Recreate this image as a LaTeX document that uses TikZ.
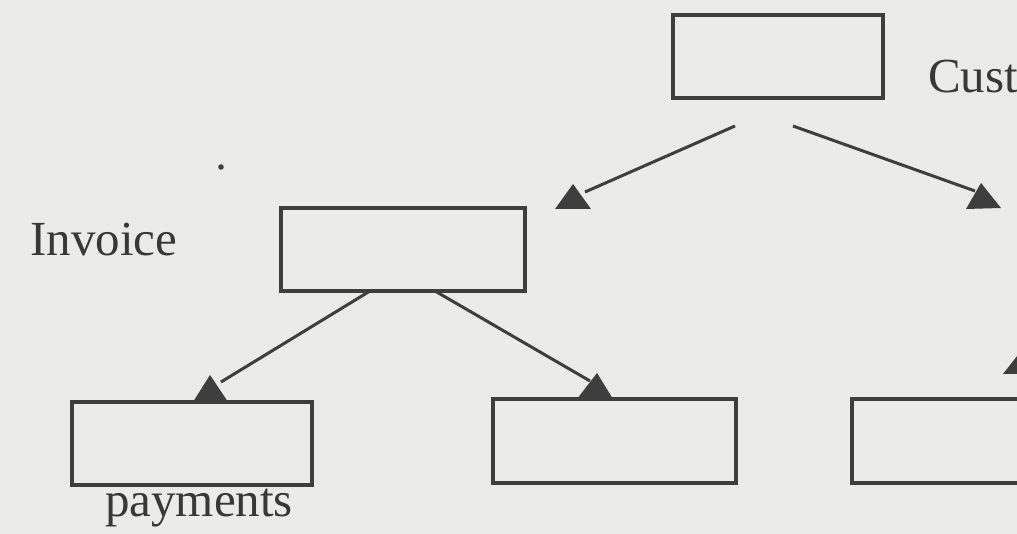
\documentclass[tikz,border=0pt]{standalone}
\usepackage{fontspec}
\setmainfont{Liberation Serif}
\definecolor{paper}{HTML}{EBEBE9}
\definecolor{ink}{HTML}{3E3E3E}
\definecolor{textink}{HTML}{383838}
\tikzset{
  rec/.style={draw=ink, line width=3.2pt},
  link/.style={draw=ink, line width=3pt},
  head/.style={fill=ink},
  lbl/.style={inner sep=0pt, anchor=base west, text=textink, font=\fontsize{49}{58}\selectfont}
}
\begin{document}
\begin{tikzpicture}[x=1pt,y=-1pt]
\useasboundingbox (0,0) rectangle (1017,534);
\clip (0,0) rectangle (1017,534);
\fill[paper] (0,0) rectangle (1017,534);

% boxes
\draw[rec] (673,15) rectangle (883,98);
\draw[rec] (281,208) rectangle (525,291);
\draw[rec] (72,402) rectangle (312,485);
\draw[rec] (493,399) rectangle (736,483);
\draw[rec] (852,399) rectangle (1040,483);

% named points
\coordinate (c1) at (735,126);
\coordinate (c2) at (793,126);
\coordinate (e1) at (585,192);
\coordinate (e2) at (975,191);
\coordinate (i1) at (370,291);
\coordinate (i2) at (435,291);
\coordinate (e3) at (221,382);
\coordinate (e4) at (590,381);

% connectors
\draw[link] (c1) -- (e1);
\draw[link] (c2) -- (e2);
\draw[link] (i1) -- (e3);
\draw[link] (i2) -- (e4);

% arrowheads
\fill[head] (573,184) -- (591,209) -- (555,209) -- cycle;
\fill[head] (981,183) -- (1001,208) -- (966,209) -- cycle;
\fill[head] (210,375) -- (228,402) -- (193,402) -- cycle;
\fill[head] (597,373) -- (613,399) -- (577,399) -- cycle;
\fill[head] (1021,351) -- (1038,374) -- (1003,374) -- cycle;

% stray dot
\fill[ink] (221,167) circle (2.8);

% labels
\node[lbl] (cust) at (928,93) {Cust};
\node[lbl] (inv) at (30,256) {Invoice};
\node[lbl] (pay) at (105,516) {payments};
\end{tikzpicture}
\end{document}
